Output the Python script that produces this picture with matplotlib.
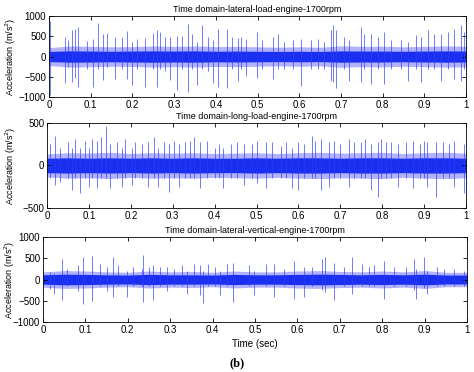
import matplotlib
matplotlib.use("Agg")
import matplotlib.pyplot as plt
import numpy as np

plt.rcParams['font.family'] = ['Liberation Sans', 'DejaVu Sans']

TITLES = ["Time domain-lateral-load-engine-1700rpm",
          "Time domain-long-load-engine-1700rpm",
          "Time domain-lateral-vertical-engine-1700rpm"]
YLIMS = [(-1000, 1000), (-500, 500), (-1000, 1000)]
YTICKS = [[-1000, -500, 0, 500, 1000], [-500, 0, 500], [-1000, -500, 0, 500, 1000]]
XTICKS = [0, 0.1, 0.2, 0.3, 0.4, 0.5, 0.6, 0.7, 0.8, 0.9, 1]

# background band (half width, m/s^2), read every 0.05 s
band_t = [0, 0.05, 0.1, 0.15, 0.2, 0.25, 0.3, 0.35, 0.4, 0.45, 0.5,
          0.55, 0.6, 0.65, 0.7, 0.75, 0.8, 0.85, 0.9, 0.95, 1.0]
band1_in = [125, 140, 135, 130, 135, 140, 135, 140, 130, 135, 130,
            125, 130, 125, 140, 135, 135, 130, 135, 140, 135]
band1_out = [220, 260, 250, 240, 245, 260, 250, 260, 245, 250, 240,
             230, 240, 230, 265, 250, 255, 240, 250, 260, 255]
band2_in = [85, 90, 85, 90, 85, 90, 85, 90, 85, 85, 90,
            85, 90, 90, 85, 90, 90, 85, 90, 90, 85]
band2_out = [135, 150, 145, 155, 140, 150, 145, 150, 140, 145, 150,
             140, 150, 155, 145, 150, 155, 140, 150, 155, 145]
band3_in = [110, 125, 120, 110, 105, 120, 110, 110, 105, 120, 110,
            110, 120, 125, 120, 110, 120, 110, 125, 105, 105]
band3_out = [180, 210, 200, 180, 170, 200, 180, 190, 170, 200, 180,
             180, 200, 210, 190, 180, 200, 180, 210, 170, 170]

# impulsive spikes: time, peak up, peak down
sp1_t = [0.002, 0.038, 0.046, 0.055, 0.062, 0.07, 0.09, 0.106, 0.118, 0.13,
         0.138, 0.158, 0.174, 0.186, 0.198, 0.21, 0.23, 0.25, 0.258, 0.266,
         0.278, 0.29, 0.306, 0.318, 0.334, 0.342, 0.354, 0.366, 0.382, 0.394,
         0.406, 0.426, 0.438, 0.454, 0.46, 0.472, 0.498, 0.51, 0.536, 0.548,
         0.564, 0.584, 0.604, 0.628, 0.644, 0.66, 0.676, 0.682, 0.688, 0.708,
         0.72, 0.748, 0.756, 0.772, 0.788, 0.804, 0.82, 0.844, 0.86, 0.88,
         0.892, 0.908, 0.924, 0.94, 0.956, 0.972, 0.988, 0.994]
sp1_hi = [880, 470, 400, 650, 675, 720, 380, 440, 816, 560,
          590, 480, 480, 630, 350, 430, 450, 590, 650, 600,
          470, 470, 500, 500, 800, 560, 350, 770, 470, 400,
          675, 675, 480, 450, 480, 440, 600, 400, 480, 560,
          360, 400, 440, 400, 440, 360, 650, 775, 650, 480,
          400, 730, 560, 560, 480, 600, 400, 400, 360, 520,
          480, 650, 560, 560, 600, 690, 775, 600]
sp1_lo = [-950, -660, -250, -640, -530, -740, -300, -740, -300, -575,
          -250, -550, -300, -560, -700, -300, -740, -300, -740, -300,
          -350, -580, -825, -300, -870, -300, -700, -300, -350, -660,
          -740, -780, -300, -610, -300, -480, -520, -300, -560, -300,
          -300, -300, -725, -300, -300, -300, -600, -640, -770, -300,
          -600, -640, -300, -680, -300, -680, -300, -300, -600, -300,
          -640, -300, -300, -600, -300, -560, -600, -300]

sp2_t = [0.007, 0.02, 0.032, 0.05, 0.06, 0.067, 0.079, 0.09, 0.1, 0.107,
         0.12, 0.13, 0.14, 0.15, 0.167, 0.179, 0.187, 0.203, 0.21, 0.226,
         0.24, 0.255, 0.266, 0.278, 0.29, 0.302, 0.314, 0.33, 0.342, 0.35,
         0.366, 0.382, 0.4, 0.41, 0.42, 0.438, 0.454, 0.47, 0.49, 0.5,
         0.522, 0.538, 0.558, 0.57, 0.585, 0.6, 0.614, 0.633, 0.64, 0.653,
         0.673, 0.685, 0.7, 0.72, 0.733, 0.749, 0.76, 0.773, 0.789, 0.797,
         0.81, 0.82, 0.837, 0.857, 0.873, 0.889, 0.9, 0.908, 0.928, 0.944,
         0.96, 0.972, 0.996]
sp2_hi = [250, 350, 200, 270, 200, 310, 200, 290, 200, 310,
          290, 330, 460, 250, 270, 200, 310, 200, 270, 250,
          270, 330, 200, 270, 250, 290, 250, 270, 290, 330,
          270, 290, 210, 250, 200, 250, 270, 250, 250, 290,
          270, 270, 230, 270, 200, 270, 250, 350, 290, 310,
          270, 290, 250, 310, 270, 270, 310, 250, 270, 310,
          270, 270, 250, 270, 290, 250, 290, 270, 270, 270,
          250, 290, 250]
sp2_lo = [-150, -230, -190, -150, -290, -150, -330, -150, -250, -150,
          -270, -150, -150, -270, -150, -250, -150, -230, -150, -150,
          -250, -150, -250, -150, -310, -150, -250, -150, -150, -150,
          -270, -150, -150, -150, -270, -150, -150, -230, -150, -210,
          -270, -150, -150, -150, -270, -290, -150, -150, -150, -290,
          -250, -150, -150, -250, -150, -150, -150, -290, -370, -150,
          -150, -150, -250, -150, -270, -150, -150, -250, -370, -150,
          -150, -250, -330]

sp3_t = [0.017, 0.025, 0.044, 0.056, 0.083, 0.094, 0.115, 0.134, 0.15, 0.164,
         0.177, 0.197, 0.213, 0.233, 0.237, 0.249, 0.26, 0.276, 0.292, 0.308,
         0.327, 0.339, 0.355, 0.37, 0.378, 0.39, 0.405, 0.417, 0.433, 0.449,
         0.485, 0.497, 0.525, 0.544, 0.568, 0.591, 0.615, 0.635, 0.658, 0.664,
         0.686, 0.71, 0.729, 0.753, 0.768, 0.78, 0.804, 0.827, 0.855, 0.875,
         0.88, 0.898, 0.906, 0.93, 0.945, 0.969, 0.992]
sp3_hi = [170, 150, 480, 250, 330, 520, 560, 370, 290, 540,
          330, 200, 290, 250, 585, 290, 330, 290, 290, 250,
          330, 200, 370, 330, 200, 370, 290, 200, 370, 400,
          330, 200, 370, 370, 250, 445, 290, 290, 480, 520,
          400, 290, 520, 370, 290, 330, 445, 290, 290, 480,
          250, 520, 200, 290, 250, 250, 210]
sp3_lo = [-220, -335, -490, -150, -260, -585, -505, -150, -260, -410,
          -150, -410, -150, -150, -530, -150, -490, -150, -260, -150,
          -150, -335, -150, -370, -550, -150, -150, -370, -150, -530,
          -150, -370, -150, -410, -150, -450, -410, -150, -250, -300,
          -490, -150, -335, -150, -150, -150, -450, -150, -150, -250,
          -450, -200, -335, -150, -150, -150, -150]

bands = [(band1_in, band1_out), (band2_in, band2_out), (band3_in, band3_out)]
spikes = [(sp1_t, sp1_hi, sp1_lo), (sp2_t, sp2_hi, sp2_lo), (sp3_t, sp3_hi, sp3_lo)]

# axes boxes in figure fraction [left, bottom, width, height]
boxes = [[0.1034, 0.739, 0.880, 0.218],
         [0.0992, 0.441, 0.884, 0.2285],
         [0.0907, 0.1344, 0.8945, 0.2285]]
ylab_x = [-0.074, -0.069, -0.061]

blue = '#0000ff'
fig = plt.figure(figsize=(4.74, 3.72), dpi=100)

for i in range(3):
    ax = fig.add_axes(boxes[i])
    b_in, b_out = bands[i]
    bt = np.array(band_t)
    ax.fill_between(bt, -np.array(b_out), b_out, color=blue, alpha=0.3, lw=0)
    ax.fill_between(bt, -np.array(b_in), b_in, color='#1a30f0', lw=0)
    t, hi, lo = spikes[i]
    ax.vlines(t, lo, hi, color='#2a3cff', lw=0.55, alpha=0.85)

    ax.set_xlim(0, 1)
    ax.set_ylim(*YLIMS[i])
    ax.set_xticks(XTICKS)
    ax.set_xticklabels(['%g' % x for x in XTICKS])
    ax.set_yticks(YTICKS[i])
    ax.tick_params(direction='in', top=True, right=True, length=3,
                   width=0.6, labelsize=7, pad=2)
    for s in ax.spines.values():
        s.set_linewidth(0.6)
    ax.set_title(TITLES[i], fontsize=6.5, pad=3)
    ax.set_ylabel('Acceleration (m/s$^2$)', fontsize=6.5)
    ax.yaxis.set_label_coords(ylab_x[i], 0.5)
    if i == 2:
        ax.set_xlabel('Time (sec)', fontsize=7, labelpad=3)

fig.text(0.5, 0.024, '(b)', ha='center', va='center', fontsize=9,
         fontweight='bold', family=['Liberation Serif', 'DejaVu Serif'])

fig.savefig('out.png', dpi=100)
